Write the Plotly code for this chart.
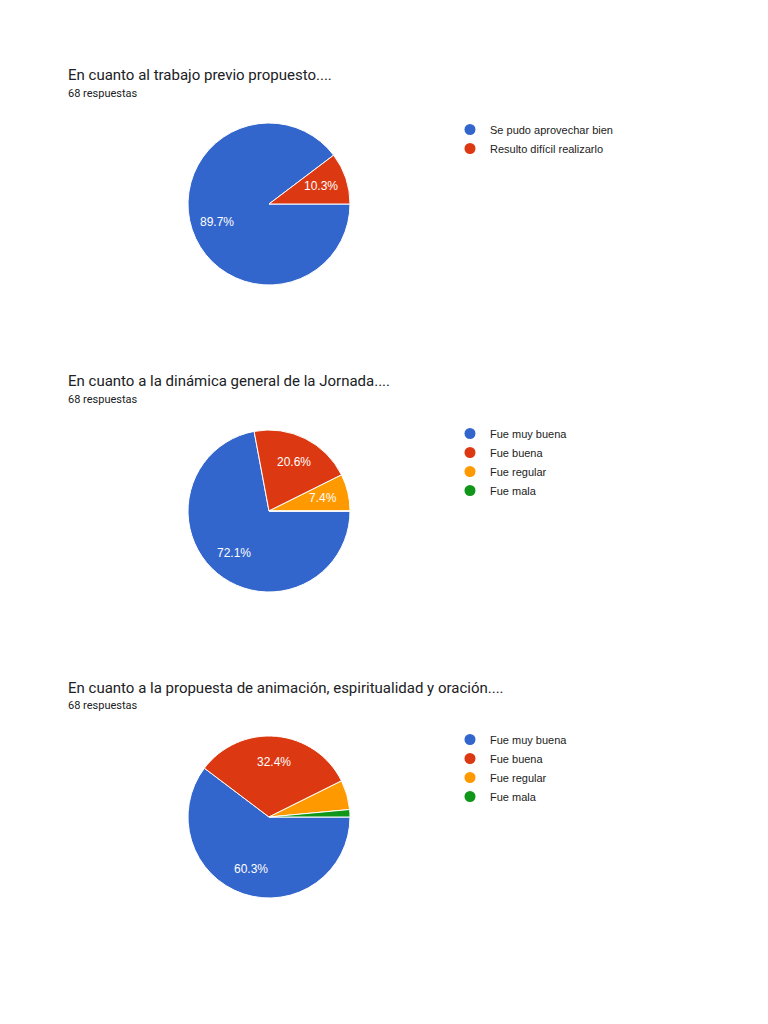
import math
import plotly.graph_objects as go

# ---- data ----
titles = [
    "En cuanto al trabajo previo propuesto....",
    "En cuanto a la dinámica general de la Jornada....",
    "En cuanto a la propuesta de animación, espiritualidad y oración....",
]
subtitles = ["68 respuestas", "68 respuestas", "68 respuestas"]

labels1 = ["Se pudo aprovechar bien", "Resulto difícil realizarlo"]
values1 = [61, 7]

labels2 = ["Fue muy buena", "Fue buena", "Fue regular", "Fue mala"]
values2 = [49, 14, 5, 0]

labels3 = ["Fue muy buena", "Fue buena", "Fue regular", "Fue mala"]
values3 = [41, 22, 4, 1]

colors = ["#3366CC", "#DC3912", "#FF9900", "#109618"]

# ---- layout helpers (pixel positions) ----
W, H = 768, 1024
pie_cx = 269
pie_r = 81
pie_cy = [204, 511, 817]
title_y = [75, 381, 688]
sub_y = [93, 399, 705]
legend_top = [115, 419, 725]
legend_left = 450
label_frac = 0.68
start_angle = 90  # degrees clockwise from 12 o'clock

charts = [(labels1, values1), (labels2, values2), (labels3, values3)]
legend_names = ["legend", "legend2", "legend3"]

fig = go.Figure()
annotations = []
for i, (labs, vals) in enumerate(charts):
    total = sum(vals)
    cy = pie_cy[i]
    fig.add_trace(go.Pie(
        labels=labs, values=vals, textinfo="none",
        marker=dict(colors=colors[:len(labs)], line=dict(color="white", width=1)),
        sort=False, direction="clockwise", rotation=start_angle,
        domain=dict(x=[(pie_cx - pie_r) / W, (pie_cx + pie_r) / W],
                    y=[1 - (cy + pie_r) / H, 1 - (cy - pie_r) / H]),
        showlegend=False, hoverinfo="label+percent",
    ))
    # percentage labels placed along each slice's bisector (Google Charts style)
    cum = 0
    for v in vals:
        share = v / total
        mid = math.radians(start_angle + (cum + share / 2) * 360)
        cum += share
        if share < 0.07:
            continue
        px = pie_cx + label_frac * pie_r * math.sin(mid)
        py = cy - label_frac * pie_r * math.cos(mid)
        annotations.append(dict(
            text=f"{share * 100:.1f}%", x=px / W, y=1 - py / H,
            xref="paper", yref="paper", xanchor="center", yanchor="middle",
            showarrow=False,
            font=dict(family="Liberation Sans, Arial", size=12, color="white"),
        ))
    for j, lab in enumerate(labs):
        fig.add_trace(go.Scatter(
            x=[None], y=[None], mode="markers", name=lab,
            marker=dict(symbol="circle", size=11, color=colors[j]),
            legend=legend_names[i], showlegend=True,
        ))
    annotations.append(dict(
        text=titles[i], x=66 / W, y=1 - title_y[i] / H, xref="paper", yref="paper",
        xanchor="left", yanchor="middle", showarrow=False,
        font=dict(family="Roboto", size=15, color="#202124"),
    ))
    annotations.append(dict(
        text=subtitles[i], x=66 / W, y=1 - sub_y[i] / H, xref="paper", yref="paper",
        xanchor="left", yanchor="middle", showarrow=False,
        font=dict(family="Roboto", size=11, color="#202124"),
    ))

legend_common = dict(
    xanchor="left", yanchor="top", bgcolor="rgba(0,0,0,0)",
    font=dict(family="Liberation Sans, Arial", size=11, color="#222222"),
    itemclick=False, itemdoubleclick=False, tracegroupgap=0,
)
layout_legends = {}
for i, name in enumerate(legend_names):
    layout_legends[name] = dict(x=legend_left / W, y=1 - legend_top[i] / H, **legend_common)

fig.update_layout(
    width=W, height=H,
    margin=dict(l=0, r=0, t=0, b=0),
    paper_bgcolor="white", plot_bgcolor="white",
    xaxis=dict(visible=False), yaxis=dict(visible=False),
    annotations=annotations,
    **layout_legends,
)

fig.write_html("out.html")
